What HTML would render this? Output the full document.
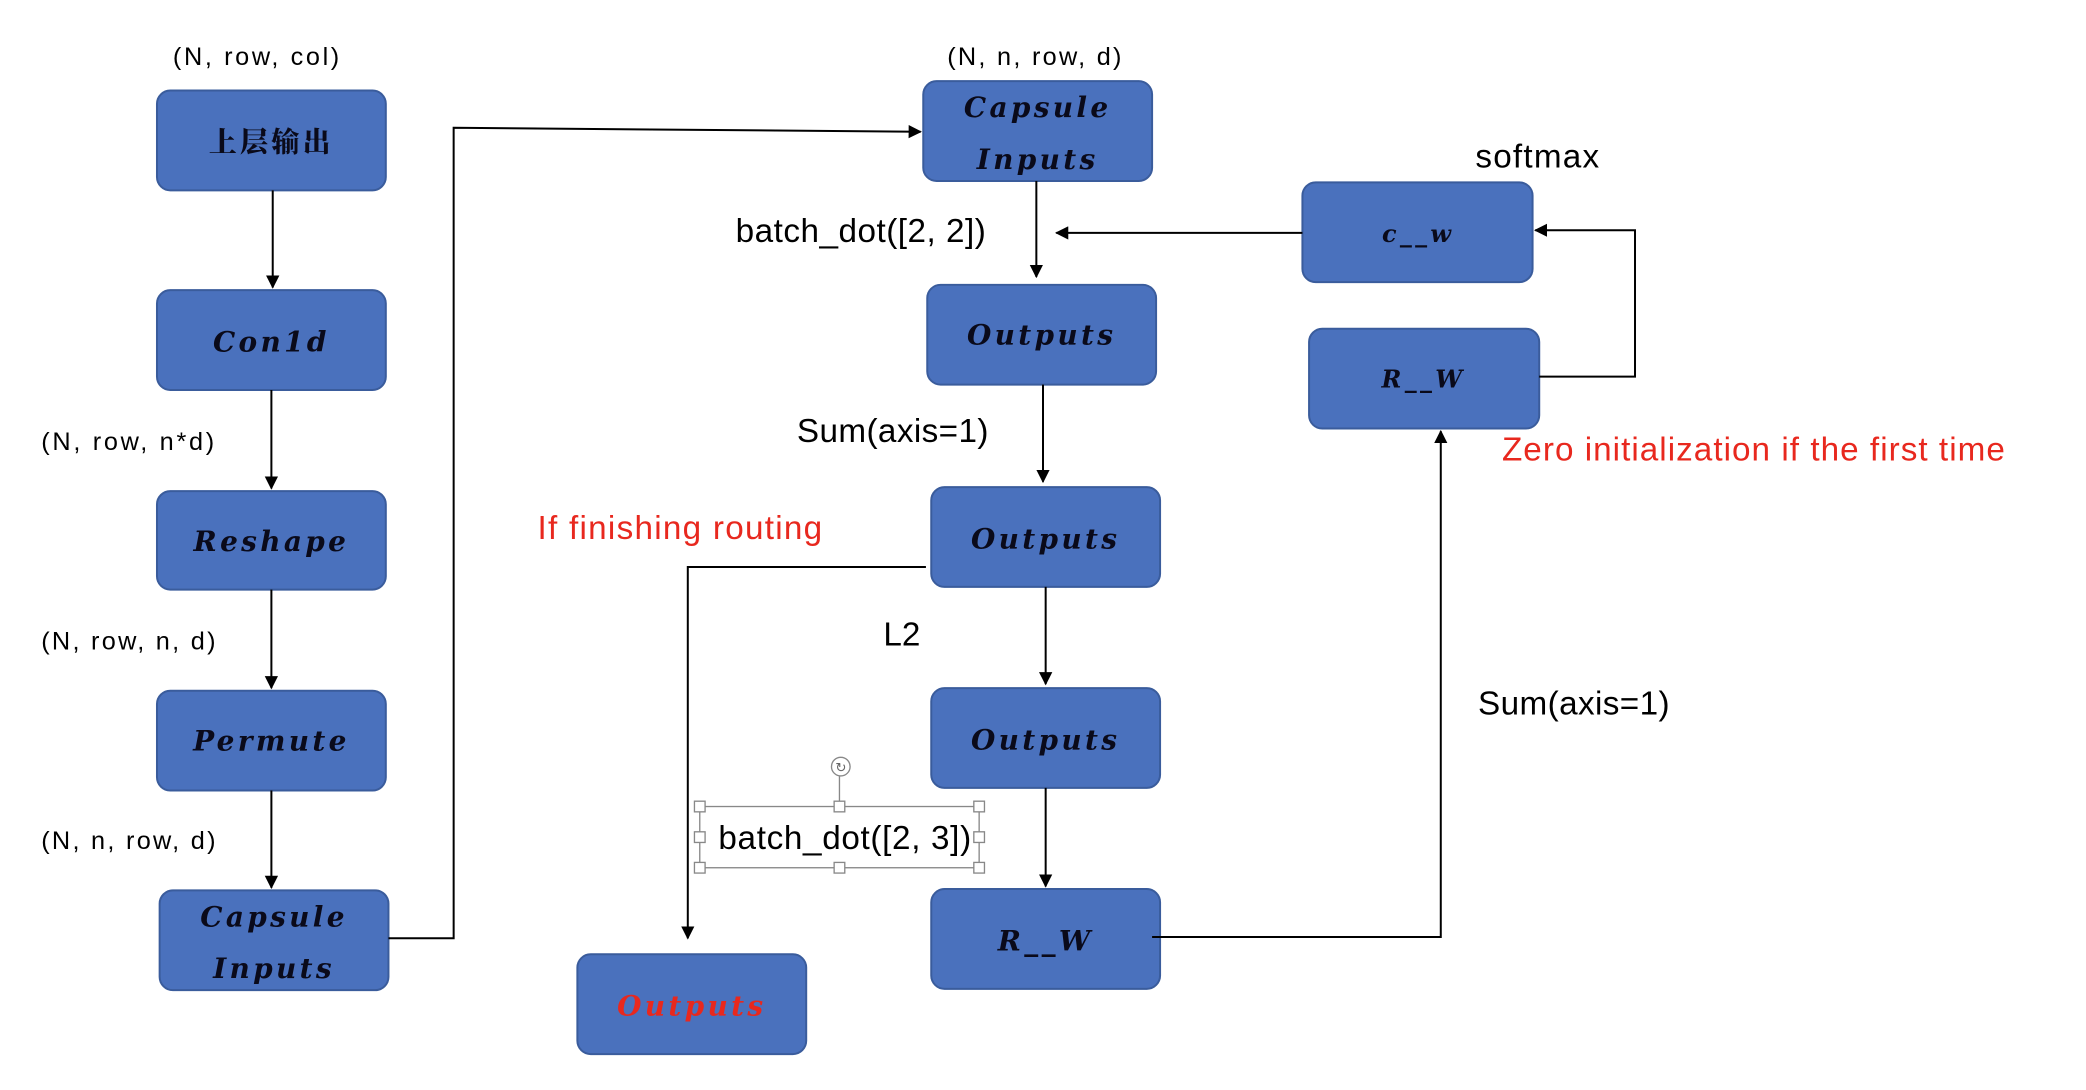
<!DOCTYPE html>
<html><head><meta charset="utf-8"><style>
html,body{margin:0;padding:0;background:#fff;}
svg{display:block}
.b{fill:#4a71bd;stroke:#3a5c9c;stroke-width:1.5}
.t{font-family:"DejaVu Serif","Liberation Serif",serif;font-weight:bold;font-style:italic;font-size:21px;letter-spacing:2.5px;fill:#0a0a1a;text-anchor:middle}
.l{font-family:"Liberation Sans","Noto Sans CJK SC",sans-serif;font-size:25px;fill:#000}
.s{font-family:"Liberation Sans","Noto Sans CJK SC",sans-serif;font-size:19px;fill:#000}
.r{fill:#e8281e}
.ln{stroke:#000;stroke-width:1.5;fill:none}
</style></head><body>
<svg width="2086" height="1090" viewBox="0 0 1568 819" preserveAspectRatio="none">
<defs><marker id="a" markerWidth="10" markerHeight="10" refX="9" refY="5" orient="auto" markerUnits="userSpaceOnUse"><path d="M0,0 L10,5 L0,10 z" fill="#000"/></marker></defs>
<rect class="b" x="118" y="68" width="172" height="75" rx="10"/>
<text class="t" x="204" y="114" style="font-family:'Noto Serif CJK SC','Noto Sans CJK SC',serif;font-style:normal;font-weight:900">上层输出</text>
<rect class="b" x="118" y="218" width="172" height="75" rx="10"/>
<text class="t" x="204" y="264">Con1d</text>
<rect class="b" x="118" y="369" width="172" height="74" rx="10"/>
<text class="t" x="204" y="414">Reshape</text>
<rect class="b" x="118" y="519" width="172" height="75" rx="10"/>
<text class="t" x="204" y="564">Permute</text>
<rect class="b" x="120" y="669" width="172" height="75" rx="10"/>
<text class="t" x="206" y="696">Capsule</text>
<text class="t" x="206" y="735">Inputs</text>
<text class="s" x="130" y="49" textLength="125">(N, row, col)</text>
<text class="s" x="31" y="338" textLength="130">(N, row, n*d)</text>
<text class="s" x="31" y="488" textLength="131">(N, row, n, d)</text>
<text class="s" x="31" y="638" textLength="131">(N, n, row, d)</text>
<line class="ln" x1="205" y1="143" x2="205" y2="216" marker-end="url(#a)"/>
<line class="ln" x1="204" y1="293" x2="204" y2="367" marker-end="url(#a)"/>
<line class="ln" x1="204" y1="443" x2="204" y2="517" marker-end="url(#a)"/>
<line class="ln" x1="204" y1="594" x2="204" y2="667" marker-end="url(#a)"/>
<polyline class="ln" points="292,705 341,705 341,96 692,99" marker-end="url(#a)"/>
<text class="s" x="712" y="49" textLength="131">(N, n, row, d)</text>
<rect class="b" x="694" y="61" width="172" height="75" rx="10"/>
<text class="t" x="780" y="88">Capsule</text>
<text class="t" x="780" y="127">Inputs</text>
<rect class="b" x="697" y="214" width="172" height="75" rx="10"/>
<text class="t" x="783" y="259">Outputs</text>
<rect class="b" x="700" y="366" width="172" height="75" rx="10"/>
<text class="t" x="786" y="412">Outputs</text>
<rect class="b" x="700" y="517" width="172" height="75" rx="10"/>
<text class="t" x="786" y="563">Outputs</text>
<rect class="b" x="700" y="668" width="172" height="75" rx="10"/>
<text class="t" x="786" y="714">R__W</text>
<rect class="b" x="434" y="717" width="172" height="75" rx="10"/>
<text class="t" x="520" y="763" style="fill:#e8281e">Outputs</text>
<text class="l" x="553" y="182" textLength="188">batch_dot([2, 2])</text>
<text class="l" x="599" y="332" textLength="144">Sum(axis=1)</text>
<text class="l" x="664" y="485">L2</text>
<text class="l r" x="404" y="405" textLength="214">If finishing routing</text>
<line class="ln" x1="779" y1="136" x2="779" y2="208" marker-end="url(#a)"/>
<line class="ln" x1="784" y1="289" x2="784" y2="362" marker-end="url(#a)"/>
<line class="ln" x1="786" y1="441" x2="786" y2="514" marker-end="url(#a)"/>
<line class="ln" x1="786" y1="592" x2="786" y2="666" marker-end="url(#a)"/>
<polyline class="ln" points="696,426 517,426 517,705" marker-end="url(#a)"/>
<g stroke="#888" fill="#fff" stroke-width="1">
<rect x="526" y="606" width="210" height="46" fill="none"/>
<line x1="631" y1="583" x2="631" y2="606"/>
<circle cx="632" cy="576" r="7"/>
<rect x="522" y="602" width="8" height="8"/><rect x="627" y="602" width="8" height="8"/><rect x="732" y="602" width="8" height="8"/>
<rect x="522" y="625" width="8" height="8"/><rect x="732" y="625" width="8" height="8"/>
<rect x="522" y="648" width="8" height="8"/><rect x="627" y="648" width="8" height="8"/><rect x="732" y="648" width="8" height="8"/>
</g>
<text x="632" y="580" font-size="10" text-anchor="middle" fill="#666" font-family="DejaVu Sans">↻</text>
<text class="l" x="540" y="638" textLength="190">batch_dot([2, 3])</text>
<rect class="b" x="979" y="137" width="173" height="75" rx="10"/>
<text class="t" x="1066" y="182" style="font-size:18px">c__w</text>
<rect class="b" x="984" y="247" width="173" height="75" rx="10"/>
<text class="t" x="1070" y="291" style="font-size:18px">R__W</text>
<text class="l" x="1109" y="126" textLength="93">softmax</text>
<text class="l r" x="1129" y="346" textLength="378">Zero initialization if the first time</text>
<text class="l" x="1111" y="537" textLength="144">Sum(axis=1)</text>
<line class="ln" x1="979" y1="175" x2="794" y2="175" marker-end="url(#a)"/>
<polyline class="ln" points="1157,283 1229,283 1229,173 1154,173" marker-end="url(#a)"/>
<polyline class="ln" points="866,704 1083,704 1083,324" marker-end="url(#a)"/>
</svg>
</body></html>
